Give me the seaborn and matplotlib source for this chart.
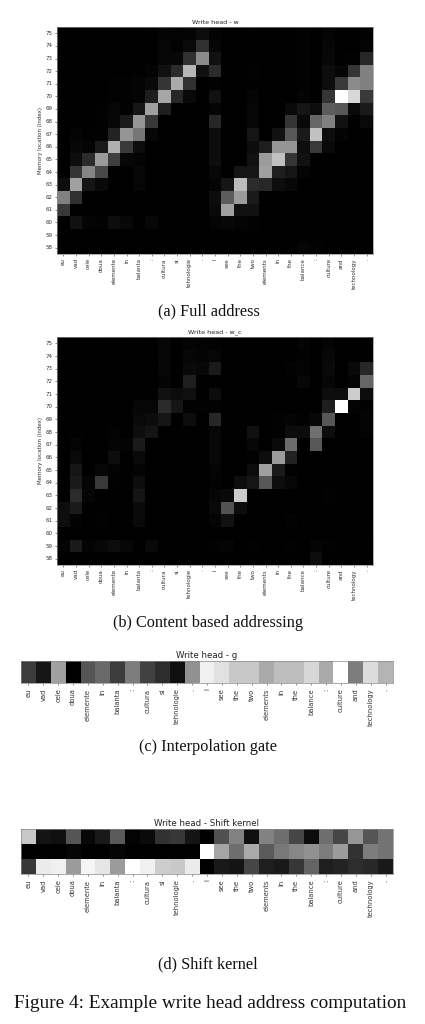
import matplotlib
matplotlib.use("Agg")
import matplotlib.pyplot as plt
from matplotlib.colors import PowerNorm
import numpy as np
import seaborn as sns

tokens = ["eu", "vad", "cele", "doua", "elemente", "in", "balanta", ":", "cultura", "si", "tehnologie", ".",
          "I", "see", "the", "two", "elements", "in", "the", "balance", ":", "culture", "and", "technology", "."]
memory_rows = list(range(75, 57, -1))

# grey levels, rows are memory 75 -> 58
full_address = [
    [0, 0, 0, 0, 0, 0, 2, 3, 8, 6, 8, 20, 6, 0, 0, 3, 0, 0, 0, 5, 0, 8, 0, 0, 5],
    [0, 0, 0, 0, 0, 0, 2, 3, 10, 5, 15, 60, 10, 0, 0, 3, 0, 0, 0, 5, 0, 10, 0, 0, 8],
    [0, 0, 0, 0, 0, 0, 2, 3, 10, 12, 60, 150, 25, 0, 0, 3, 0, 0, 0, 5, 0, 12, 3, 5, 50],
    [0, 0, 0, 0, 0, 0, 3, 8, 25, 55, 190, 25, 55, 0, 0, 4, 0, 0, 0, 5, 0, 20, 10, 65, 140],
    [0, 0, 0, 0, 5, 5, 8, 15, 65, 180, 60, 0, 5, 0, 0, 3, 0, 0, 0, 5, 0, 20, 70, 150, 140],
    [0, 0, 0, 0, 5, 5, 8, 40, 175, 50, 15, 0, 25, 0, 0, 8, 0, 0, 0, 8, 0, 65, 255, 220, 70],
    [0, 0, 0, 5, 10, 5, 30, 170, 40, 0, 0, 0, 8, 0, 0, 12, 0, 0, 15, 30, 20, 105, 100, 15, 35],
    [0, 0, 3, 5, 12, 35, 160, 70, 0, 0, 0, 0, 50, 0, 0, 10, 0, 0, 65, 15, 115, 140, 25, 0, 15],
    [0, 8, 5, 5, 45, 160, 130, 10, 0, 0, 0, 0, 20, 0, 0, 30, 0, 25, 100, 35, 200, 20, 8, 0, 3],
    [0, 12, 8, 35, 185, 70, 20, 0, 0, 0, 0, 0, 20, 0, 0, 20, 40, 160, 160, 20, 70, 15, 0, 0, 0],
    [0, 20, 55, 165, 75, 12, 8, 0, 0, 0, 0, 0, 20, 0, 0, 25, 165, 200, 65, 25, 0, 0, 0, 0, 0],
    [3, 65, 145, 85, 3, 0, 12, 0, 0, 0, 0, 0, 12, 0, 30, 30, 170, 40, 30, 8, 0, 0, 0, 0, 0],
    [20, 170, 30, 15, 0, 0, 10, 0, 0, 0, 0, 0, 8, 30, 195, 55, 50, 20, 12, 0, 0, 0, 0, 0, 0],
    [140, 60, 0, 3, 0, 0, 3, 0, 0, 0, 0, 0, 20, 105, 165, 35, 3, 0, 0, 0, 0, 0, 0, 0, 0],
    [70, 0, 0, 3, 0, 0, 3, 0, 0, 0, 0, 0, 15, 170, 25, 25, 0, 0, 0, 0, 0, 0, 0, 0, 0],
    [0, 25, 8, 5, 20, 12, 0, 12, 0, 0, 0, 0, 8, 12, 8, 5, 0, 0, 0, 0, 0, 0, 0, 0, 0],
    [3, 3, 0, 0, 0, 0, 0, 0, 0, 0, 0, 0, 3, 3, 3, 3, 0, 0, 0, 0, 0, 0, 0, 0, 0],
    [3, 3, 2, 2, 0, 0, 2, 0, 0, 0, 0, 3, 3, 3, 3, 3, 0, 0, 0, 8, 5, 0, 0, 0, 0],
]
content_address = [
    [0, 0, 0, 0, 3, 0, 3, 0, 10, 0, 8, 6, 4, 0, 0, 0, 0, 0, 0, 8, 0, 8, 0, 0, 3],
    [0, 0, 0, 0, 3, 0, 3, 0, 10, 0, 12, 8, 10, 0, 0, 3, 0, 0, 0, 4, 0, 12, 0, 0, 3],
    [0, 0, 0, 0, 3, 0, 3, 0, 12, 0, 15, 12, 35, 0, 0, 3, 0, 0, 6, 6, 0, 15, 0, 15, 50],
    [0, 0, 0, 0, 3, 0, 3, 0, 8, 0, 40, 0, 3, 0, 0, 3, 0, 0, 0, 12, 0, 10, 0, 8, 115],
    [0, 0, 0, 0, 3, 0, 3, 3, 25, 18, 22, 0, 18, 0, 0, 3, 0, 0, 0, 0, 0, 20, 18, 210, 20],
    [0, 0, 0, 0, 3, 0, 10, 10, 55, 30, 5, 5, 5, 0, 0, 0, 0, 0, 0, 0, 0, 40, 255, 8, 5],
    [0, 3, 0, 0, 3, 0, 15, 18, 30, 0, 18, 0, 50, 0, 0, 0, 0, 5, 8, 5, 12, 100, 0, 0, 8],
    [0, 3, 0, 0, 6, 0, 20, 28, 0, 0, 0, 0, 12, 0, 0, 25, 0, 3, 18, 18, 125, 20, 0, 0, 6],
    [0, 8, 0, 0, 8, 8, 35, 0, 0, 0, 0, 0, 12, 0, 0, 12, 0, 15, 120, 3, 100, 0, 0, 0, 0],
    [0, 15, 0, 0, 20, 3, 15, 0, 0, 0, 0, 0, 12, 0, 0, 5, 20, 165, 45, 0, 3, 0, 0, 0, 0],
    [0, 30, 0, 12, 6, 3, 8, 0, 0, 0, 0, 0, 8, 0, 0, 18, 170, 35, 5, 0, 0, 0, 0, 0, 0],
    [0, 35, 8, 70, 5, 3, 20, 0, 0, 0, 0, 0, 6, 0, 20, 30, 100, 20, 10, 0, 0, 0, 0, 0, 0],
    [0, 55, 10, 0, 0, 0, 30, 0, 0, 0, 0, 0, 10, 15, 210, 0, 0, 0, 0, 0, 0, 5, 0, 0, 0],
    [20, 35, 0, 3, 0, 0, 15, 0, 0, 0, 0, 0, 15, 95, 20, 0, 0, 0, 0, 0, 0, 3, 0, 0, 0],
    [20, 6, 0, 5, 0, 0, 15, 0, 0, 0, 0, 0, 8, 25, 0, 0, 0, 0, 6, 0, 0, 0, 0, 0, 0],
    [0, 0, 0, 0, 0, 0, 0, 0, 0, 0, 0, 0, 0, 0, 0, 0, 0, 0, 0, 0, 0, 0, 0, 0, 0],
    [6, 35, 6, 12, 18, 12, 0, 15, 0, 3, 0, 0, 4, 8, 0, 5, 0, 0, 5, 0, 8, 5, 0, 0, 3],
    [0, 0, 0, 0, 0, 0, 0, 0, 0, 0, 0, 0, 0, 0, 0, 0, 0, 0, 0, 3, 20, 0, 0, 0, 0],
]
gate = [60, 22, 160, 0, 85, 105, 60, 125, 65, 45, 15, 145, 240, 225, 200, 200, 170, 190, 190, 215, 170, 255, 125, 220, 180]
shift_left = [200, 20, 15, 85, 8, 25, 90, 3, 10, 50, 55, 20, 0, 80, 130, 15, 130, 110, 70, 12, 110, 70, 150, 85, 115]
shift_stay = [0, 0, 0, 5, 0, 0, 5, 0, 0, 0, 0, 0, 255, 165, 110, 170, 90, 120, 135, 145, 125, 155, 50, 125, 115]
shift_right = [55, 235, 240, 155, 245, 230, 155, 255, 240, 205, 200, 235, 0, 25, 20, 70, 30, 25, 55, 100, 30, 35, 45, 40, 25]

W, H = 425, 1024


def make_axes(fig, x0, y0, x1, y1):
    # pixel box of the reference -> figure fraction
    return fig.add_axes([x0 / W, 1 - y1 / H, (x1 - x0) / W, (y1 - y0) / H])


def draw_panel(fig, box, values, title, ylabels=False, small=True):
    ax = make_axes(fig, *box)
    lab = 4.0 if small else 4.9
    # the two big maps sit a bit darker in their faint cells
    norm = PowerNorm(1.15, vmin=0, vmax=255) if small else None
    sns.heatmap(np.array(values), ax=ax, cmap="gray", vmin=None if small else 0, vmax=None if small else 255,
                norm=norm, cbar=False, xticklabels=tokens, yticklabels=memory_rows if ylabels else False)
    ax.tick_params(axis="x", labelsize=lab, labelrotation=90, length=1.5, width=0.4,
                   pad=1.5 if small else 2.5, colors="#333333")
    ax.tick_params(axis="y", labelsize=lab, labelrotation=0, length=1.5 if ylabels else 0, width=0.4, pad=1.5, colors="#333333")
    for s in ax.spines.values():
        s.set_visible(True)
        s.set_linewidth(0.5)
        s.set_edgecolor("#888888")
    ax.set_title(title, fontsize=4.6 if small else 6.2, pad=2.5, color="#222222")
    if ylabels:
        ax.set_ylabel("Memory location (index)", fontsize=lab, labelpad=2, color="#333333")
    return ax


def main():
    fig = plt.figure(figsize=(W / 100, H / 100), dpi=100, facecolor="white")

    draw_panel(fig, (57, 27, 373, 254), full_address, "Write head - w", ylabels=True)
    draw_panel(fig, (57, 337, 373, 565), content_address, "Write head - w_c", ylabels=True)
    draw_panel(fig, (21, 661, 393, 683), [gate], "Write head - g", small=False)
    draw_panel(fig, (21, 829, 393, 874), [shift_left, shift_stay, shift_right], "Write head - Shift kernel", small=False)

    # captions belong to the page, not to the axes
    captions = [("(a) Full address", 209, 311, 11.7), ("(b) Content based addressing", 208, 623, 11.7),
                ("(c) Interpolation gate", 208, 747, 11.7), ("(d) Shift kernel", 208, 964, 11.7),
                ("Figure 4: Example write head address computation", 210.5, 1003, 13.9)]
    for text, x, y, size in captions:
        fig.text(x / W, 1 - y / H, text, ha="center", va="center", family="Liberation Serif", fontsize=size, color="#111111")

    fig.savefig("out.png", dpi=100)


if __name__ == "__main__":
    main()
